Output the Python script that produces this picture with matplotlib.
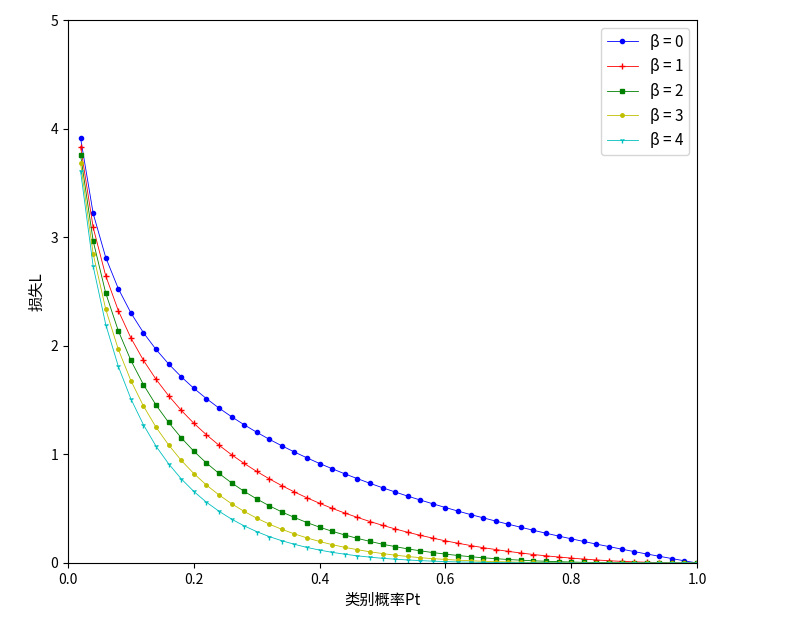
import matplotlib
matplotlib.use("Agg")
import matplotlib.pyplot as plt

plt.rcParams['font.family'] = ['Noto Sans CJK SC', 'DejaVu Sans']
plt.rcParams['axes.unicode_minus'] = False

p = [round(0.02 * i, 2) for i in range(1, 51)]
loss_b0 = [3.912,3.219,2.813,2.526,2.303,2.120,1.966,1.833,1.715,1.609,1.514,1.427,1.347,1.273,1.204,1.139,1.079,1.022,0.968,0.916,0.868,0.821,0.777,0.734,0.693,0.654,0.616,0.580,0.545,0.511,0.478,0.446,0.416,0.386,0.357,0.329,0.301,0.274,0.248,0.223,0.198,0.174,0.151,0.128,0.105,0.083,0.062,0.041,0.020,0.0]
loss_b1 = [3.834,3.090,2.644,2.324,2.072,1.866,1.691,1.540,1.406,1.287,1.181,1.085,0.997,0.917,0.843,0.775,0.712,0.654,0.600,0.550,0.503,0.460,0.420,0.382,0.347,0.314,0.283,0.255,0.229,0.204,0.182,0.161,0.141,0.124,0.107,0.092,0.078,0.066,0.055,0.045,0.036,0.028,0.021,0.015,0.011,0.007,0.004,0.002,0.0,0.0]
loss_b2 = [3.757,2.966,2.485,2.138,1.865,1.642,1.454,1.294,1.153,1.030,0.921,0.825,0.738,0.660,0.590,0.527,0.470,0.419,0.372,0.330,0.292,0.258,0.227,0.199,0.173,0.151,0.130,0.112,0.096,0.082,0.069,0.058,0.048,0.040,0.032,0.026,0.020,0.016,0.012,0.009,0.006,0.004,0.003,0.002,0.001,0.001,0.0,0.0,0.0,0.0]
loss_b3 = [3.682,2.847,2.336,1.967,1.679,1.445,1.250,1.087,0.945,0.824,0.718,0.627,0.546,0.475,0.413,0.358,0.310,0.268,0.231,0.198,0.169,0.144,0.123,0.103,0.087,0.072,0.060,0.049,0.040,0.033,0.026,0.021,0.016,0.013,0.010,0.007,0.005,0.004,0.003,0.002,0.001,0.001,0.0,0.0,0.0,0.0,0.0,0.0,0.0,0.0]
loss_b4 = [3.608,2.733,2.196,1.810,1.511,1.272,1.075,0.913,0.775,0.659,0.560,0.477,0.404,0.342,0.289,0.243,0.205,0.172,0.143,0.119,0.098,0.081,0.066,0.054,0.043,0.035,0.028,0.022,0.017,0.013,0.010,0.008,0.005,0.004,0.003,0.002,0.001,0.001,0.001,0.0,0.0,0.0,0.0,0.0,0.0,0.0,0.0,0.0,0.0,0.0]
labels = ['β = 0', 'β = 1', 'β = 2', 'β = 3', 'β = 4']

fig = plt.figure(figsize=(7.87, 6.28), dpi=100)
ax = fig.add_axes([68/787, 65/628, 629/787, 543/628])
styles = [('b', 'o', 3), ('r', '+', 5), ('g', 's', 3), ('y', 'o', 2.5), ('c', '1', 4)]
for ys, lab, (c, m, ms) in zip([loss_b0, loss_b1, loss_b2, loss_b3, loss_b4], labels, styles):
    ax.plot(p, ys, color=c, marker=m, markersize=ms, linewidth=0.6, label=lab)
ax.set_xlim(0, 1)
ax.set_ylim(0, 5)
ax.set_xlabel('类别概率Pt', fontsize=11)
ax.set_ylabel('损失L', fontsize=11)
ax.legend(loc='upper right', fontsize=11)
fig.savefig('out.png', dpi=100)
